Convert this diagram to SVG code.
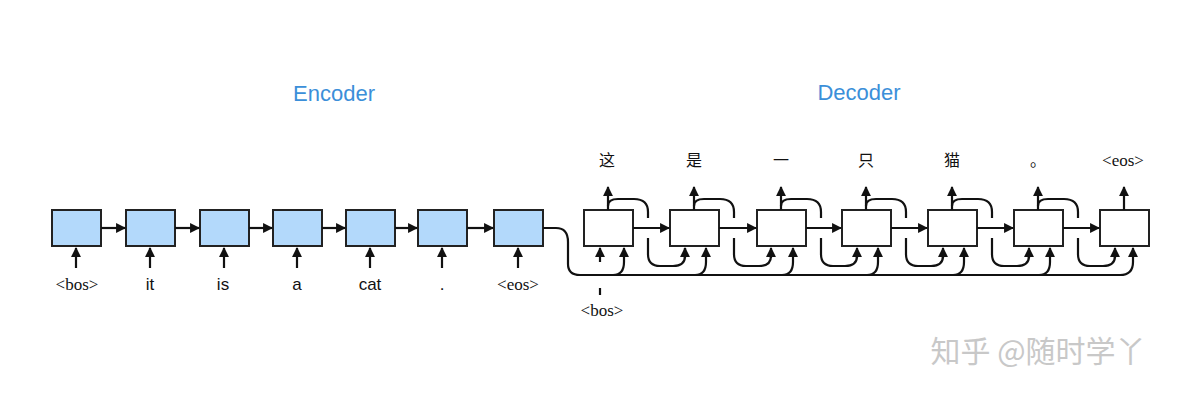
<svg xmlns="http://www.w3.org/2000/svg" width="1200" height="400" viewBox="0 0 1200 400">
<defs>
<marker id="ah" viewBox="0 0 10 10" refX="9" refY="5" markerWidth="4.5" markerHeight="4.5" orient="auto"><path d="M0,0 L10,5 L0,10 z" fill="#111"/></marker>
<style>
.enc{fill:#b3d9fb;stroke:#222;stroke-width:2}
.dec{fill:#fff;stroke:#222;stroke-width:2}
.ln{fill:none;stroke:#111;stroke-width:2.2}
.a{fill:none;stroke:#111;stroke-width:2.2;marker-end:url(#ah)}
.t{font-family:"Liberation Serif",serif;font-size:17px;fill:#111;text-anchor:middle}
.s{font-family:"Liberation Sans",sans-serif;font-size:17px;fill:#111;text-anchor:middle}
.c{font-family:"Noto Sans CJK SC",sans-serif;font-size:16px;fill:#111;text-anchor:middle}
.h{font-family:"Liberation Sans",sans-serif;font-size:22px;fill:#3b8fd9;text-anchor:middle}
</style>
</defs>
<rect width="1200" height="400" fill="#fff"/>
<text class="h" x="334" y="101">Encoder</text>
<text class="h" x="859" y="100">Decoder</text>
<g id="enc1"><rect class="enc" x="52" y="210" width="49" height="36"/></g>
<g id="enc2"><rect class="enc" x="126" y="210" width="49" height="36"/></g>
<g id="enc3"><rect class="enc" x="200" y="210" width="49" height="36"/></g>
<g id="enc4"><rect class="enc" x="273" y="210" width="49" height="36"/></g>
<g id="enc5"><rect class="enc" x="346" y="210" width="49" height="36"/></g>
<g id="enc6"><rect class="enc" x="418" y="210" width="49" height="36"/></g>
<g id="enc7"><rect class="enc" x="494" y="210" width="49" height="36"/></g>
<g id="dec1"><rect class="dec" x="584" y="210" width="49" height="36"/></g>
<g id="dec2"><rect class="dec" x="670" y="210" width="49" height="36"/></g>
<g id="dec3"><rect class="dec" x="757" y="210" width="49" height="36"/></g>
<g id="dec4"><rect class="dec" x="842" y="210" width="49" height="36"/></g>
<g id="dec5"><rect class="dec" x="928" y="210" width="49" height="36"/></g>
<g id="dec6"><rect class="dec" x="1014" y="210" width="49" height="36"/></g>
<g id="dec7"><rect class="dec" x="1100" y="210" width="49" height="36"/></g>
<g id="connectors">
<path class="a" d="M101,228H125"/><path class="a" d="M175,228H199"/><path class="a" d="M249,228H272"/><path class="a" d="M322,228H345"/><path class="a" d="M395,228H417"/><path class="a" d="M467,228H493"/>
<path class="a" d="M76,268V248"/><path class="a" d="M150,268V248"/><path class="a" d="M224,268V248"/><path class="a" d="M297,268V248"/><path class="a" d="M370,268V248"/><path class="a" d="M442,268V248"/><path class="a" d="M518,268V248"/>
<path class="ln" d="M543,228H556Q568,228 568,242V264Q568,275 580,275H1120"/>
<path class="a" d="M600,262V248"/><path class="ln" d="M600,288V295"/>
<path class="a" d="M613,275Q624,275 624,262V248"/>
<path class="a" d="M695,275Q706,275 706,262V248"/>
<path class="a" d="M782,275Q793,275 793,262V248"/>
<path class="a" d="M867,275Q878,275 878,262V248"/>
<path class="a" d="M953,275Q964,275 964,262V248"/>
<path class="a" d="M1039,275Q1050,275 1050,262V248"/>
<path class="a" d="M1120,275Q1133,275 1133,262V248"/>
<path class="a" d="M633,228H669"/><path class="a" d="M719,228H756"/><path class="a" d="M806,228H841"/><path class="a" d="M891,228H927"/><path class="a" d="M977,228H1013"/><path class="a" d="M1063,228H1099"/>
<path class="a" d="M608,210V187"/><path class="a" d="M694,210V187"/><path class="a" d="M781,210V187"/><path class="a" d="M866,210V187"/><path class="a" d="M952,210V187"/><path class="a" d="M1038,210V187"/><path class="a" d="M1124,210V187"/>
<path class="ln" d="M608,206Q608,199 618,199H634Q648,199 648,212V218M648,238V254Q648,266 660,266H673Q685,266 685,256V248"/>
<path class="a" d="M685,258V248"/>
<path class="ln" d="M694,206Q694,199 704,199H720Q734,199 734,212V218M734,238V254Q734,266 746,266H759Q771,266 771,256V250"/>
<path class="a" d="M771,258V248"/>
<path class="ln" d="M781,206Q781,199 791,199H807Q821,199 821,212V218M821,238V254Q821,266 833,266H845Q857,266 857,256V250"/>
<path class="a" d="M857,258V248"/>
<path class="ln" d="M866,206Q866,199 876,199H892Q906,199 906,212V218M906,238V254Q906,266 918,266H931Q943,266 943,256V250"/>
<path class="a" d="M943,258V248"/>
<path class="ln" d="M952,206Q952,199 962,199H978Q992,199 992,212V218M992,238V254Q992,266 1004,266H1017Q1029,266 1029,256V250"/>
<path class="a" d="M1029,258V248"/>
<path class="ln" d="M1038,206Q1038,199 1048,199H1064Q1078,199 1078,212V218M1078,238V254Q1078,266 1090,266H1103Q1115,266 1115,256V250"/>
<path class="a" d="M1115,258V248"/>
</g>
<text class="t" x="77" y="290">&lt;bos&gt;</text>
<text class="s" x="150" y="290">it</text>
<text class="s" x="223" y="290">is</text>
<text class="s" x="297" y="290">a</text>
<text class="s" x="370" y="290">cat</text>
<text class="s" x="442" y="290">.</text>
<text class="t" x="518" y="290">&lt;eos&gt;</text>
<text class="t" x="602" y="316">&lt;bos&gt;</text>
<text class="c" x="607" y="166">这</text>
<text class="c" x="694" y="166">是</text>
<text class="c" x="781" y="166">一</text>
<text class="c" x="866" y="166">只</text>
<text class="c" x="952" y="166">猫</text>
<text class="c" x="1038" y="166">。</text>
<text class="t" x="1123" y="166">&lt;eos&gt;</text>
<text x="1038" y="362" font-family="Noto Sans CJK SC,sans-serif" font-size="30" fill="#c8c8c8" text-anchor="middle">知乎 @随时学丫</text>
</svg>
